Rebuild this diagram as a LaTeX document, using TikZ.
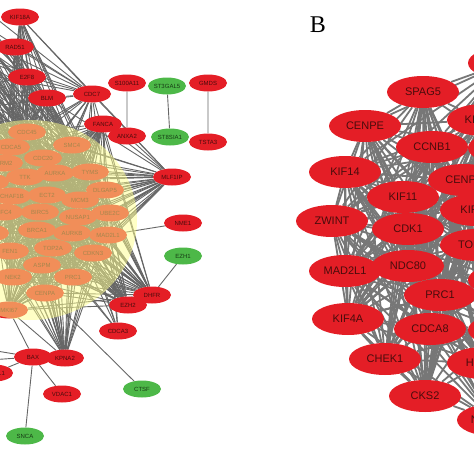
\documentclass[tikz,border=0pt]{standalone}
\usepackage{fontspec}
\setmainfont{Liberation Sans}
\newfontfamily\NETserif{Liberation Serif}
\usetikzlibrary{shapes.geometric}
\definecolor{NETred}{HTML}{E41E26}
\definecolor{NETgreen}{HTML}{4DB848}
\definecolor{NETgrey}{HTML}{666666}
\definecolor{NETgreyB}{HTML}{777777}
\definecolor{NETyellow}{HTML}{FFFF8C}
\definecolor{NETtext}{HTML}{4A0C0C}
\definecolor{NETgtext}{HTML}{163A14}
\pgfdeclarelayer{links}\pgfsetlayers{links,main}
\tikzset{
 gene/.style={ellipse,fill=NETred,text=NETtext,minimum width=38pt,minimum height=17pt,inner sep=0pt,font=\fontsize{6}{6}\selectfont},
 genegreen/.style={gene,fill=NETgreen,text=NETgtext},
 hub/.style={ellipse,fill=NETred,text=NETtext,minimum width=72pt,minimum height=32pt,inner sep=0pt,font=\fontsize{11}{11}\selectfont},
 lnk/.style={NETgrey,line width=.9pt},
 lnkB/.style={NETgreyB,line width=1.8pt}
}
\def\NETcluster{cdc45,cdca5,smc4,cdc20,rrm2,ccnb2,ttk,aurka,tyms,chaf1,ect2,mcm3,dlgap5,rfc4,birc5,nusap1,ube2c,pbk,brca1,aurkb,mad2l1,fen1,top2a,cdkn3,aspm,nek2,prc1,cenpa,mki67}
\def\NETtop{cdc45,cdca5,smc4,cdc20,rrm2,ttk,aurka,tyms,chaf1,ect2,mcm3,dlgap5}
\def\NETpanelB{bbub1b,bspag5,bkif20a,bcenpe,bccnb1,bbub1,bkif14,bcenpf,bkif11,bkif2c,bzwint,bcdk1,btop2a,bmad2l1,bndc80,bccna2,bprc1,bkif4a,bcdca8,bttk,bchek1,bhmmr,bcks2,bnusap1}
\begin{document}
\begin{tikzpicture}[x=1pt,y=-1pt]
\useasboundingbox (0,0) rectangle (474,474);
\foreach \n/\x/\y/\t in {cdc45/27/132/CDC45,cdca5/11/147/CDCA5,smc4/72/145/SMC4,cdc20/43/158/CDC20,rrm2/4/163/RRM2,ccnb2/-10/182/CCNB2,ttk/25/177/TTK,aurka/55/173/AURKA,tyms/90/172/TYMS,chaf1/12/196/CHAF1B,ect2/47/195/ECT2,mcm3/80/200/MCM3,dlgap5/105/190/DLGAP5,rfc4/4/212/RFC4,birc5/40/212/BIRC5,nusap1/78/217/NUSAP1,ube2c/110/213/UBE2C,pbk/-10/233/PBK,brca1/37/230/BRCA1,aurkb/72/233/AURKB,mad2l1/108/235/MAD2L1,fen1/10/251/FEN1,top2a/53/248/TOP2A,cdkn3/93/253/CDKN3,aspm/42/265/ASPM,nek2/13/277/NEK2,prc1/73/277/PRC1,cenpa/45/293/CENPA,mki67/9/310/MKI67}{
 \node[gene] (\n) at (\x,\y) {\t};
}
\fill[NETyellow,opacity=.5] (30,220) ellipse [x radius=107pt,y radius=100pt];
\foreach \n/\x/\y/\t in {kif18a/20/17/KIF18A,rad51/15/47/RAD51,e2f8/27/77/E2F8,blm/47/98/BLM,cdc7/92/94/CDC7,s100a11/127/83/S100A11,fanca/103/124/FANCA,anxa2/127/136/ANXA2,gmds/208/83/GMDS,tsta3/208/142/TSTA3,mlf1ip/172/177/MLF1IP,nme1/183/223/NME1,dhfr/152/295/DHFR,ezh2/128/305/EZH2,cdca3/118/331/CDCA3,bcl2l1/-6/373/BCL2L1,bax/33/357/BAX,kpna2/65/358/KPNA2,vdac1/62/394/VDAC1}{
 \node[gene] (\n) at (\x,\y) {\t};
}
\foreach \n/\x/\y/\t in {st3gal5/167/86/ST3GAL5,st8sia1/170/137/ST8SIA1,ezh1/183/256/EZH1,ctsf/142/389/CTSF,snca/25/436/SNCA}{
 \node[genegreen] (\n) at (\x,\y) {\t};
}
\foreach \c/\x/\y in {o0/-40/-10,o1/-40/30,o2/-40/70,o3/-40/110,o4/-40/345,o5/-40/362,o6/-40/10,o7/-40/50,o8/-40/90}{
 \coordinate (\c) at (\x,\y);
}
\node[font=\NETserif\fontsize{24}{24}\selectfont] (lblB) at (318,25) {B};
\foreach \n/\x/\y/\t in {bbub1b/504/63/BUB1B,bspag5/423/92/SPAG5,bkif20a/483/120/KIF20A,bcenpe/365/126/CENPE,bccnb1/432/147/CCNB1,bbub1/504/148/BUB1,bkif14/345/172/KIF14,bcenpf/464/180/CENPF,bkif11/403/197/KIF11,bkif2c/476/210/KIF2C,bzwint/332/221/ZWINT,bcdk1/408/229/CDK1,btop2a/476/245/TOP2A,bmad2l1/345/271/MAD2L1,bndc80/408/266/NDC80,bccna2/504/280/CCNA2,bprc1/440/295/PRC1,bkif4a/348/319/KIF4A,bcdca8/430/329/CDCA8,bttk/504/330/TTK,bchek1/385/359/CHEK1,bhmmr/483/363/HMMR,bcks2/425/396/CKS2,bnusap1/493/420/NUSAP1}{
 \node[hub] (\n) at (\x,\y) {\t};
}
\begin{pgfonlayer}{links}
\foreach \u [count=\i] in \NETcluster{
 \foreach \v [count=\j] in \NETcluster{\ifnum\j>\i \draw[lnk] (\u)--(\v);\fi}
}
\foreach \h in {fanca,mlf1ip,dhfr,ezh2,kpna2}{
 \foreach \v in \NETcluster{\draw[lnk] (\h)--(\v);}
}
\foreach \h in {o0,o1,o2,o3,o6,o7,o8,kif18a,rad51,e2f8,blm,cdc7}{
 \foreach \v in \NETtop{\draw[lnk] (\h)--(\v);}
}
\foreach \h in {o0,o1,o2,o3,o6,o7,kif18a,rad51,e2f8,blm}{\draw[lnk] (\h)--(cdc7);}
\foreach \h in {o0,o1,o6,o7,o8}{\draw[lnk] (\h)--(e2f8) (\h)--(blm);}
\foreach \v in {nusap1,ube2c,aurkb,mad2l1,cdkn3,prc1,top2a}{\draw[lnk] (cdca3)--(\v);}
\foreach \v in {ttk,chaf1,brca1,fen1,nek2,mki67}{\draw[lnk] (o3)--(\v);}
\foreach \v in {kif18a,cdc7,blm,fanca,anxa2}{\draw[lnk] (\v)--(mlf1ip);}
\foreach \v in {cdc7,fanca,kif18a}{\draw[lnk] (\v)--(dhfr);}
\draw[lnk] (s100a11)--(anxa2) (st3gal5)--(st8sia1) (gmds)--(tsta3);
\draw[lnk] (nme1)--(mad2l1) (ezh1)--(dhfr) (ctsf)--(cenpa);
\draw[lnk] (bax)--(kpna2) (bax)--(vdac1) (bax)--(snca) (bax)--(bcl2l1) (bax)--(mki67) (bax)--(o4) (bax)--(o5);
\foreach \u [count=\i] in \NETpanelB{
 \foreach \v [count=\j] in \NETpanelB{\ifnum\j>\i \draw[lnkB] (\u)--(\v);\fi}
}
\end{pgfonlayer}
\end{tikzpicture}
\end{document}
